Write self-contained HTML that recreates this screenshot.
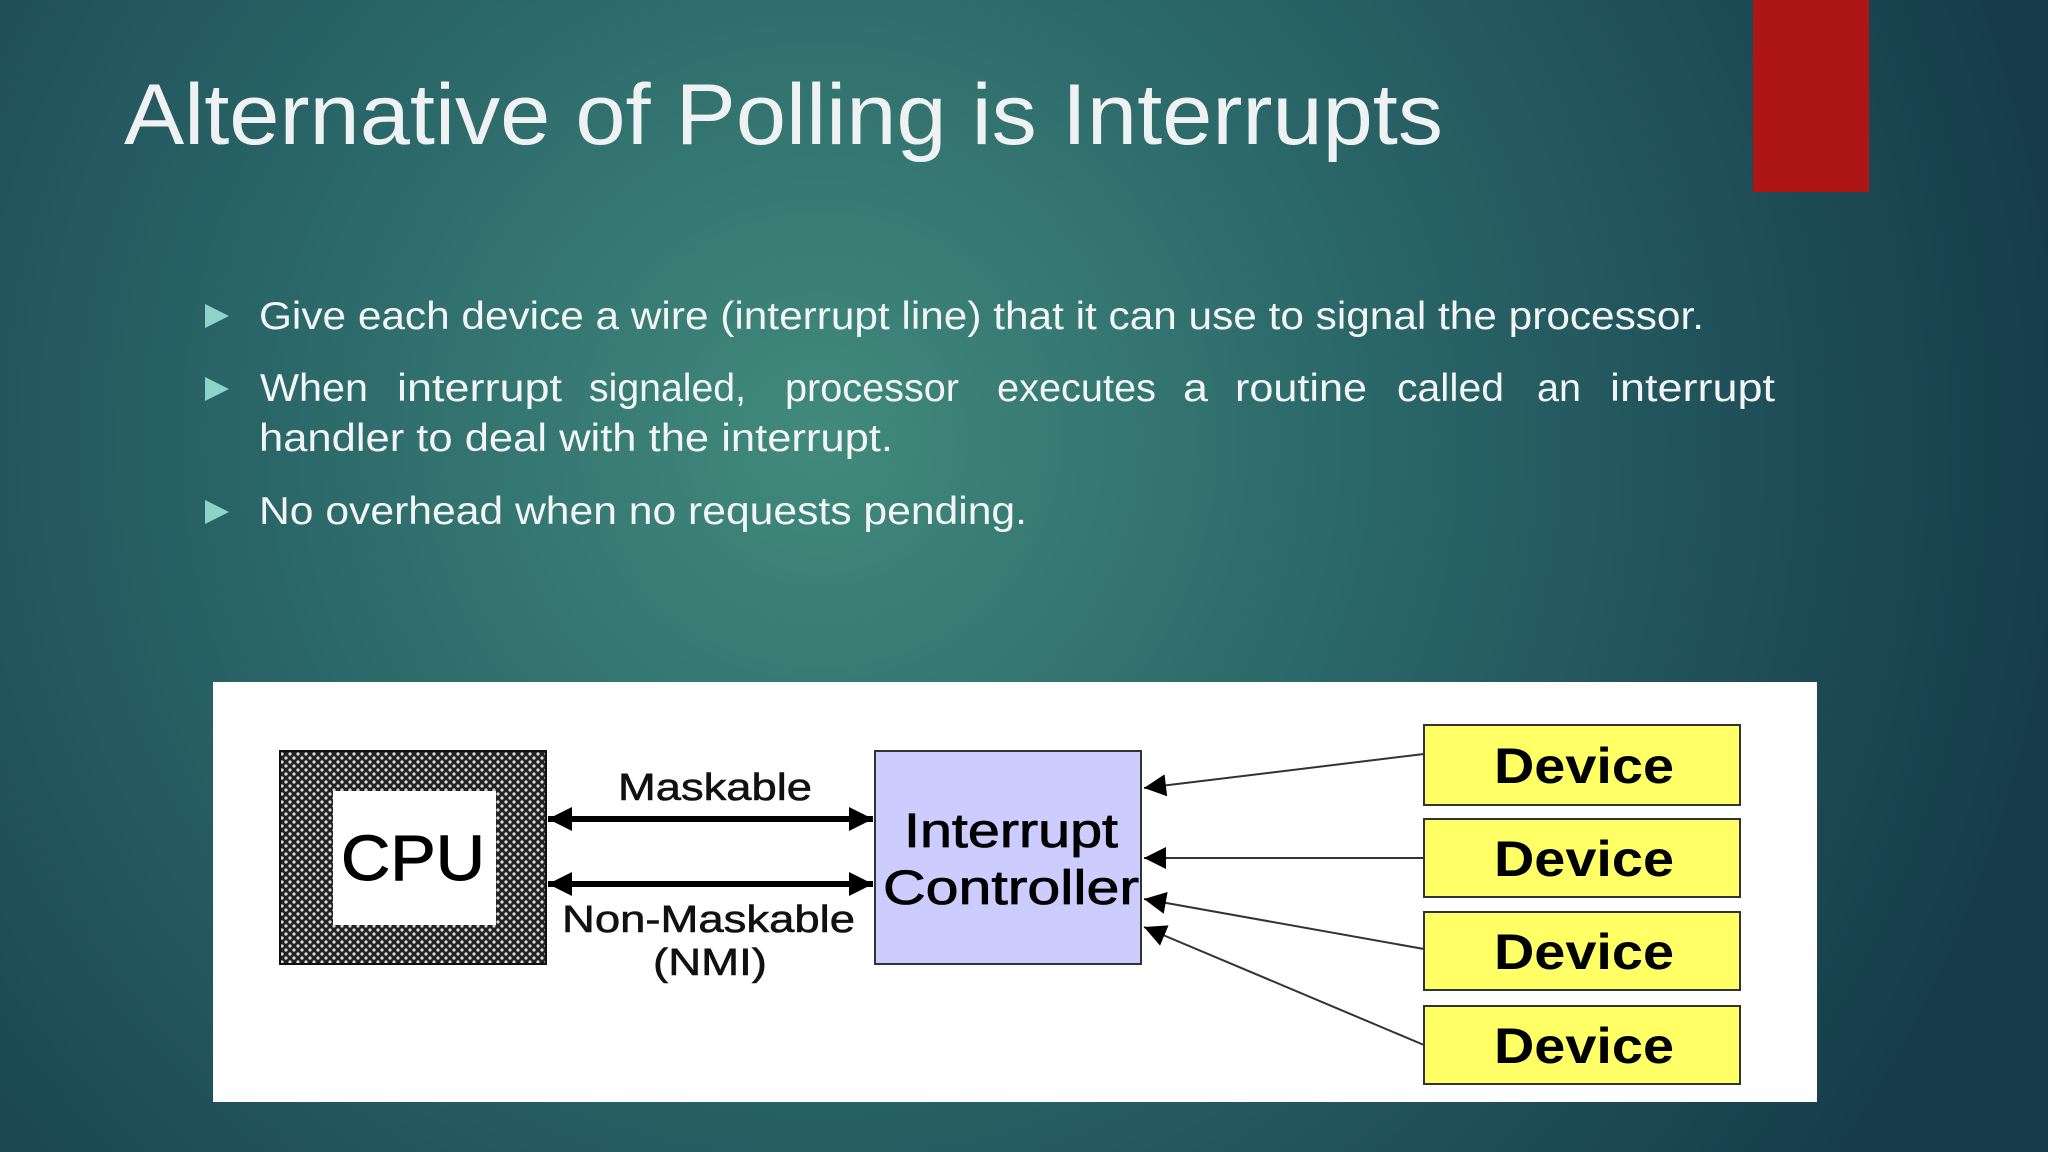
<!DOCTYPE html>
<html><head><meta charset="utf-8"><style>html,body{margin:0;padding:0;overflow:hidden}body{width:2048px;height:1152px}</style></head>
<body>
<svg width="2048" height="1152" viewBox="0 0 2048 1152" xmlns="http://www.w3.org/2000/svg" font-family="Liberation Sans, sans-serif">
<defs>
<radialGradient id="bg" cx="820" cy="440" r="1250" gradientUnits="userSpaceOnUse">
<stop offset="0" stop-color="#418a7c"/>
<stop offset="0.45" stop-color="#2a6668"/>
<stop offset="1" stop-color="#163c4b"/>
</radialGradient>
<pattern id="chk" width="8" height="8" patternUnits="userSpaceOnUse">
<rect width="8" height="8" fill="#222"/>
<circle cx="2" cy="2" r="1.6" fill="#ddd"/>
<circle cx="6" cy="6" r="1.6" fill="#ddd"/>
</pattern>
<marker id="big" viewBox="0 0 10 10" refX="10" refY="5" markerWidth="26" markerHeight="24" orient="auto-start-reverse" markerUnits="userSpaceOnUse">
<path d="M0,0 L10,5 L0,10 Z" fill="#000"/>
</marker>
<marker id="sm" viewBox="0 0 10 10" refX="10" refY="5" markerWidth="26" markerHeight="22" orient="auto" markerUnits="userSpaceOnUse">
<path d="M0,0 L10,5 L0,10 Z" fill="#000"/>
</marker>
</defs>
<rect width="2048" height="1152" fill="url(#bg)"/>
<rect x="1753" y="0" width="116" height="192" fill="#ae1515"/>
<text x="124" y="144" font-size="86" fill="#eef2f2" textLength="1319" lengthAdjust="spacingAndGlyphs">Alternative of Polling is Interrupts</text>
<g fill="#8fd3c8">
<path d="M205,304 L229,316 L205,328 Z"/>
<path d="M205,377 L229,389 L205,401 Z"/>
<path d="M205,500 L229,512 L205,524 Z"/>
</g>
<g fill="#f2f5f5" font-size="39" lengthAdjust="spacingAndGlyphs">
<text x="259" y="329" textLength="1445" lengthAdjust="spacingAndGlyphs">Give each device a wire (interrupt line) that it can use to signal the processor.</text>
<text x="260" y="401" textLength="108" lengthAdjust="spacingAndGlyphs">When</text>
<text x="397" y="401" textLength="165" lengthAdjust="spacingAndGlyphs">interrupt</text>
<text x="589" y="401" textLength="157" lengthAdjust="spacingAndGlyphs">signaled,</text>
<text x="785" y="401" textLength="174" lengthAdjust="spacingAndGlyphs">processor</text>
<text x="997" y="401" textLength="159" lengthAdjust="spacingAndGlyphs">executes</text>
<text x="1183" y="401" textLength="25" lengthAdjust="spacingAndGlyphs">a</text>
<text x="1235" y="401" textLength="132" lengthAdjust="spacingAndGlyphs">routine</text>
<text x="1397" y="401" textLength="107" lengthAdjust="spacingAndGlyphs">called</text>
<text x="1537" y="401" textLength="44" lengthAdjust="spacingAndGlyphs">an</text>
<text x="1610" y="401" textLength="165" lengthAdjust="spacingAndGlyphs">interrupt</text>
<text x="259" y="451" textLength="634" lengthAdjust="spacingAndGlyphs">handler to deal with the interrupt.</text>
<text x="259" y="524" textLength="768" lengthAdjust="spacingAndGlyphs">No overhead when no requests pending.</text>
</g>
<rect x="213" y="682" width="1604" height="420" fill="#fff"/>
<rect x="280" y="751" width="266" height="213" fill="url(#chk)" stroke="#111" stroke-width="2"/>
<rect x="333" y="791" width="163" height="134" fill="#fff"/>
<text x="341" y="880" font-size="64" fill="#000" stroke="#000" stroke-width="1" textLength="144" lengthAdjust="spacingAndGlyphs">CPU</text>
<rect x="875" y="751" width="266" height="213" fill="#ccccff" stroke="#333" stroke-width="2"/>
<g font-size="48" fill="#000" stroke="#000" stroke-width="0.8">
<text x="904" y="847" textLength="214" lengthAdjust="spacingAndGlyphs">Interrupt</text>
<text x="883" y="904" textLength="256" lengthAdjust="spacingAndGlyphs">Controller</text>
</g>
<g stroke="#000" stroke-width="6">
<line x1="548" y1="819" x2="873" y2="819" marker-start="url(#big)" marker-end="url(#big)"/>
<line x1="548" y1="884" x2="873" y2="884" marker-start="url(#big)" marker-end="url(#big)"/>
</g>
<g font-size="38" fill="#111" stroke="#111" stroke-width="0.6">
<text x="618" y="800" textLength="194" lengthAdjust="spacingAndGlyphs">Maskable</text>
<text x="562" y="932" textLength="293" lengthAdjust="spacingAndGlyphs">Non-Maskable</text>
<text x="653" y="975" textLength="114" lengthAdjust="spacingAndGlyphs">(NMI)</text>
</g>
<g stroke="#333" stroke-width="2">
<line x1="1424" y1="754" x2="1144" y2="788" marker-end="url(#sm)"/>
<line x1="1424" y1="858" x2="1144" y2="858" marker-end="url(#sm)"/>
<line x1="1424" y1="949" x2="1144" y2="899" marker-end="url(#sm)"/>
<line x1="1424" y1="1045" x2="1144" y2="927" marker-end="url(#sm)"/>
</g>
<g fill="#ffff66" stroke="#333" stroke-width="2">
<rect x="1424" y="725" width="316" height="80"/>
<rect x="1424" y="819" width="316" height="78"/>
<rect x="1424" y="912" width="316" height="78"/>
<rect x="1424" y="1006" width="316" height="78"/>
</g>
<g font-size="50" font-weight="bold" fill="#000">
<text x="1494" y="783" textLength="180" lengthAdjust="spacingAndGlyphs">Device</text>
<text x="1494" y="876" textLength="180" lengthAdjust="spacingAndGlyphs">Device</text>
<text x="1494" y="969" textLength="180" lengthAdjust="spacingAndGlyphs">Device</text>
<text x="1494" y="1063" textLength="180" lengthAdjust="spacingAndGlyphs">Device</text>
</g>
</svg>
</body></html>
